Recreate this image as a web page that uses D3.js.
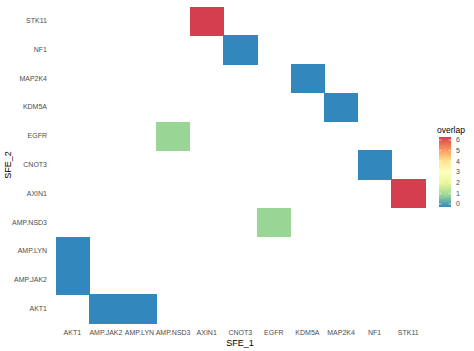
<!DOCTYPE html>
<html><head><meta charset="utf-8">
<script src="https://cdn.jsdelivr.net/npm/d3@7"></script>
<style>body{margin:0;background:#fff}text{font-family:"Liberation Sans",Arial,sans-serif}</style>
</head><body>
<svg id="c" width="474" height="351"></svg>
<script>
const categories = ["AKT1","AMP.JAK2","AMP.LYN","AMP.NSD3","AXIN1","CNOT3","EGFR","KDM5A","MAP2K4","NF1","STK11"];
const sfe1 = ["AKT1","AKT1","AMP.JAK2","AMP.LYN","AMP.NSD3","AXIN1","CNOT3","EGFR","KDM5A","MAP2K4","NF1","STK11"];
const sfe2 = ["AMP.JAK2","AMP.LYN","AKT1","AKT1","EGFR","STK11","NF1","AMP.NSD3","MAP2K4","KDM5A","CNOT3","AXIN1"];
const overlap = [0,0,0,0,1,6,0,1,0,0,0,6];
const legendTicks = [0,1,2,3,4,5,6];
const palette = ["#3288BD","#99D594","#E6F598","#FFFFBF","#FEE08B","#FC8D59","#D53E4F"];

const svg = d3.select("#c");
const x = d3.scaleBand().domain(categories).range([55.5, 425]).padding(0);
const y = d3.scaleBand().domain(categories).range([323, 6.5]).padding(0);
const color = d3.scaleLinear().domain(legendTicks).range(palette);

const data = sfe1.map((s,i)=>({x:s,y:sfe2[i],v:overlap[i]}));
svg.append("g").attr("shape-rendering","crispEdges").selectAll("rect").data(data).join("rect")
  .attr("x",d=>x(d.x)).attr("y",d=>y(d.y))
  .attr("width",x.bandwidth()+0.5).attr("height",y.bandwidth()+0.5)
  .attr("fill",d=>color(d.v));

const xa = svg.append("g").attr("transform","translate(0,323)")
  .call(d3.axisBottom(x).tickSize(0).tickPadding(7));
xa.select(".domain").remove();
xa.selectAll("text").attr("font-size",7).attr("fill","#4D4D4D").attr("font-family","Liberation Sans, Arial, sans-serif");

const ya = svg.append("g").attr("transform","translate(50,0)")
  .call(d3.axisLeft(y).tickSize(0).tickPadding(3));
ya.select(".domain").remove();
ya.selectAll("text").attr("font-size",7).attr("fill","#4D4D4D").attr("font-family","Liberation Sans, Arial, sans-serif");

svg.append("text").attr("x",240).attr("y",346).attr("text-anchor","middle")
  .attr("font-size",9).attr("fill","#000").text("SFE_1");
svg.append("text").attr("transform","translate(11,165) rotate(-90)").attr("text-anchor","middle")
  .attr("font-size",9).attr("fill","#000").text("SFE_2");

// legend
const lg = svg.append("g");
const defs = svg.append("defs");
const grad = defs.append("linearGradient").attr("id","g").attr("x1",0).attr("y1",1).attr("x2",0).attr("y2",0);
legendTicks.forEach((t,i)=>grad.append("stop").attr("offset",i/(legendTicks.length-1)).attr("stop-color",palette[i]));
const ly = d3.scaleLinear().domain([0,6]).range([204,140]);
lg.append("rect").attr("x",439).attr("y",137).attr("width",12).attr("height",70).attr("fill","url(#g)");
lg.append("text").attr("x",437).attr("y",133).attr("font-size",8.5).attr("fill","#000").text("overlap");
legendTicks.forEach(t=>{
  lg.append("line").attr("x1",439).attr("x2",441.5).attr("y1",ly(t)).attr("y2",ly(t)).attr("stroke","#fff").attr("stroke-width",0.6);
  lg.append("line").attr("x1",448.5).attr("x2",451).attr("y1",ly(t)).attr("y2",ly(t)).attr("stroke","#fff").attr("stroke-width",0.6);
  lg.append("text").attr("x",456).attr("y",ly(t)).attr("dy","0.35em").attr("font-size",7).attr("fill","#4D4D4D").text(t);
});
</script>
</body></html>
